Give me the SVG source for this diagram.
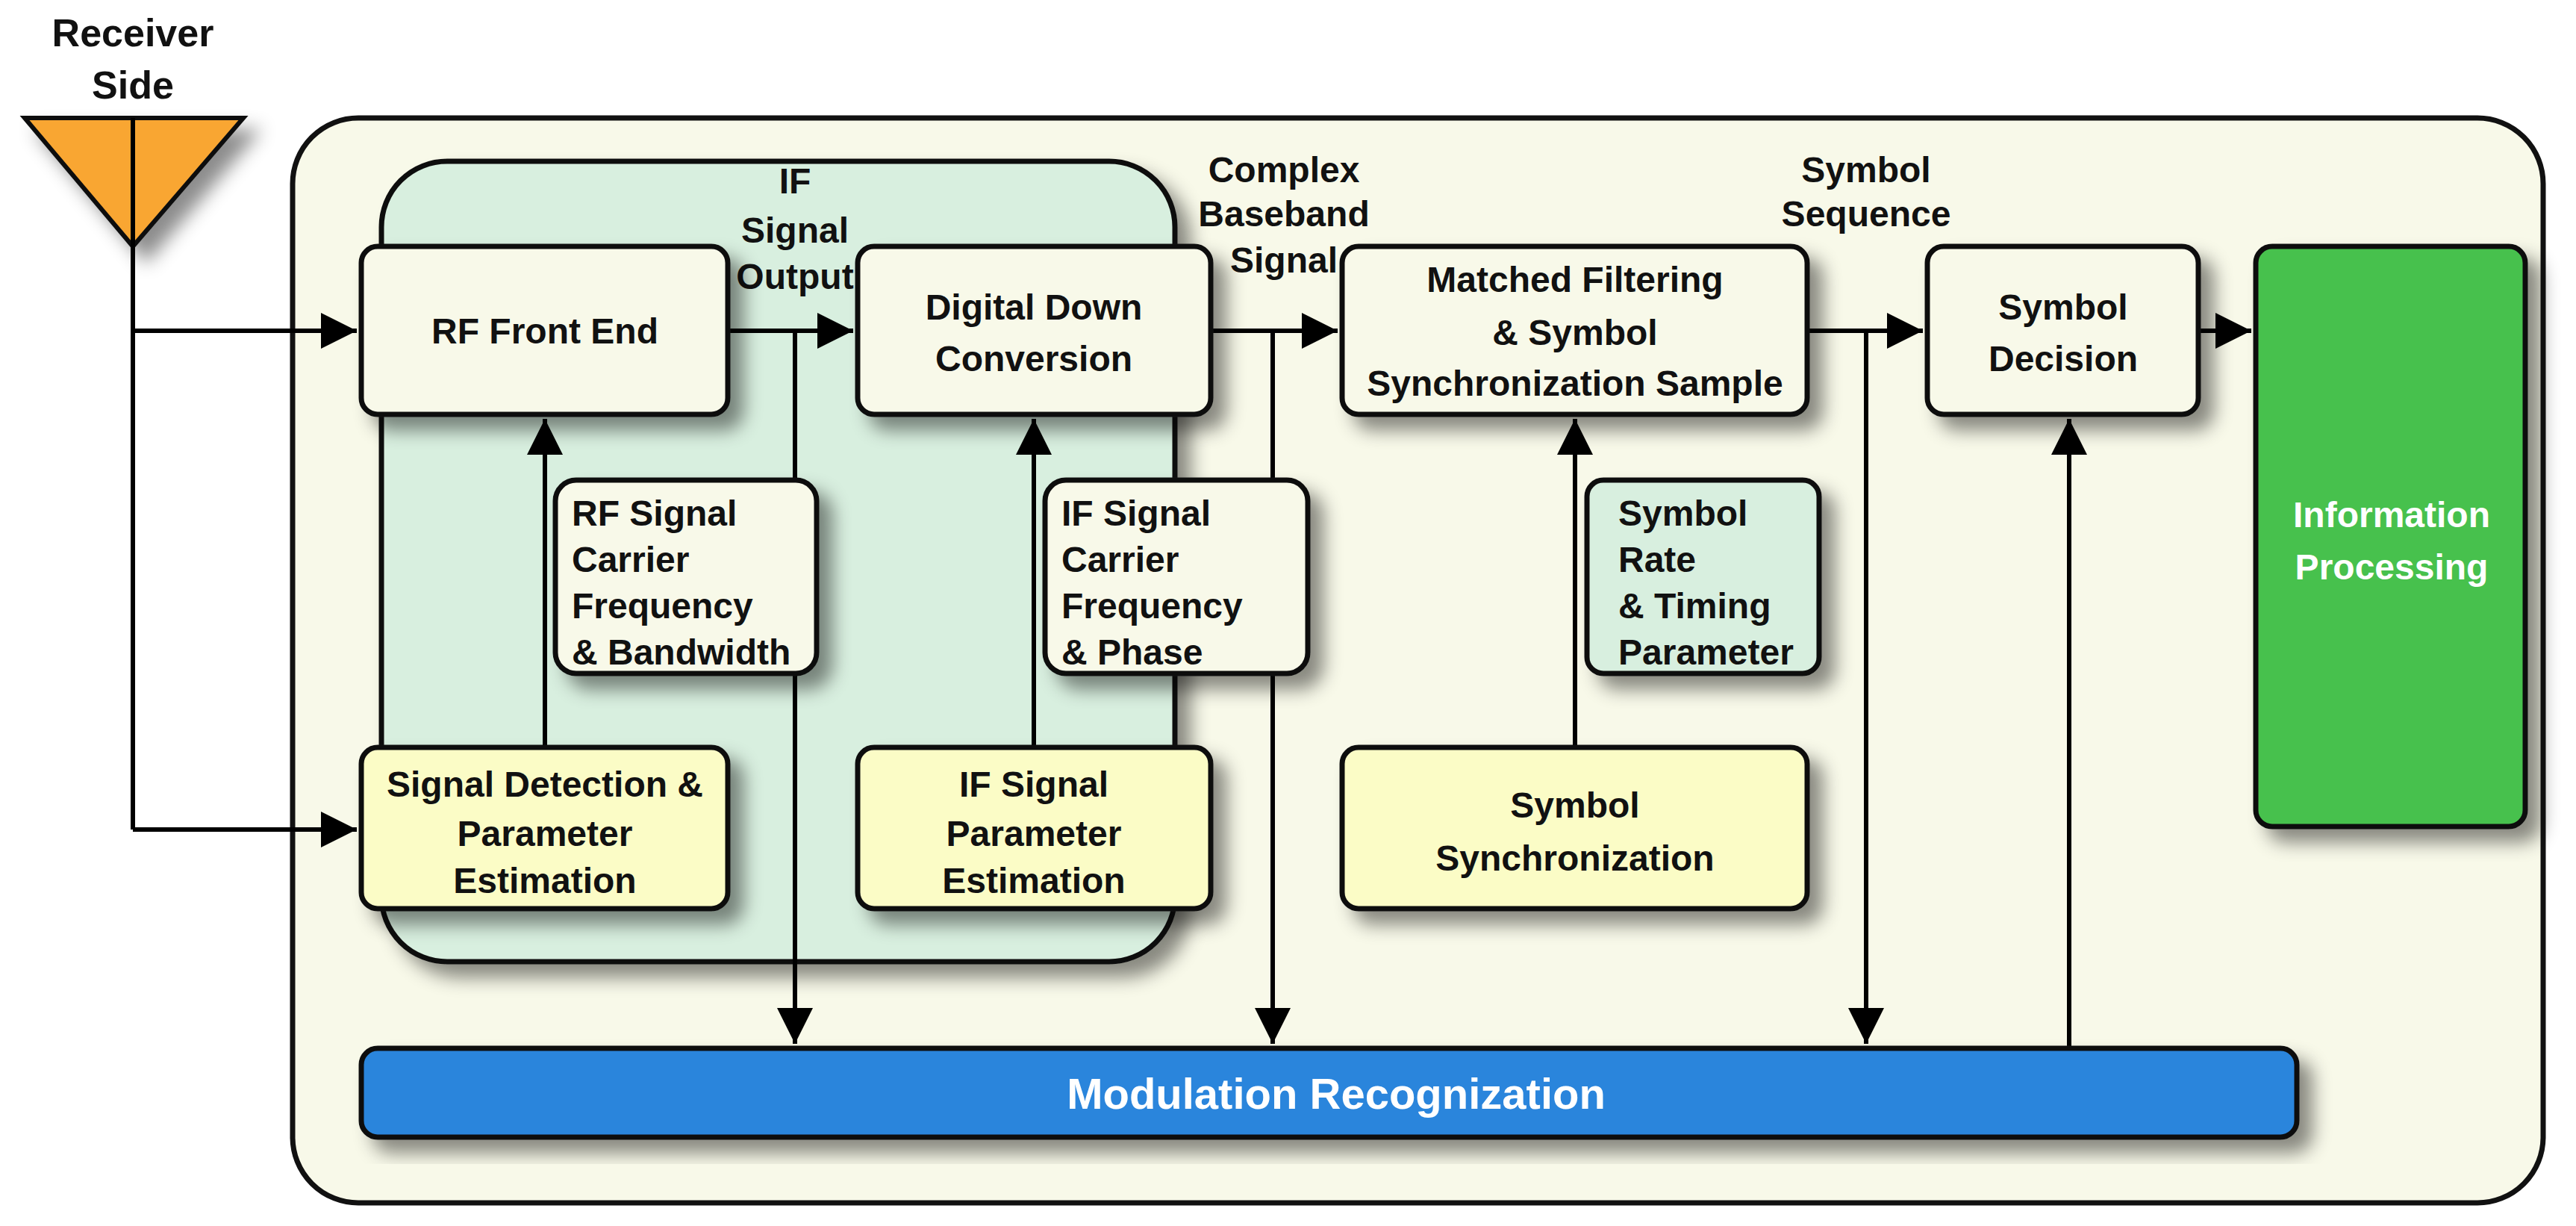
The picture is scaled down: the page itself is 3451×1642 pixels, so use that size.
<svg xmlns="http://www.w3.org/2000/svg" width="3451" height="1642" viewBox="0 0 3451 1642">
<defs>
<filter id="sh" x="-20%" y="-20%" width="150%" height="150%"><feDropShadow dx="18" dy="18" stdDeviation="12" flood-color="#000" flood-opacity="0.45"/></filter>
<marker id="a" viewBox="0 0 10 10" refX="10" refY="5" markerWidth="10" markerHeight="8" orient="auto"><path d="M0,0 L10,5 L0,10 z" fill="#000"/></marker>
</defs>
<style>
.b{stroke:#111;stroke-width:7;filter:url(#sh)}
.w{fill:#f8f9e9}.y{fill:#fbfcc6}.t{fill:#d8efdf}
text{font-family:"Liberation Sans",Arial,sans-serif;font-weight:bold;font-size:48px;fill:#111}
.c{text-anchor:middle}
.l{stroke:#000;stroke-width:6;fill:none}
</style>
<rect x="392" y="158" width="3015" height="1453" rx="88" fill="#f8f9e9" stroke="#111" stroke-width="7"/>
<rect x="511" y="216" width="1063" height="1072" rx="88" class="b t"/>
<g id="antenna"><path d="M33,158 L326,158 L178,330 Z" fill="#f9a632" stroke="#111" stroke-width="6" filter="url(#sh)"/>
<text x="178" y="62" class="c" style="font-size:52px">Receiver</text><text x="178" y="132" class="c" style="font-size:52px">Side</text></g>
<g id="connectors">
<path class="l" d="M178,158 V1111"/>
<path class="l" d="M178,443 H478" marker-end="url(#a)"/>
<path class="l" d="M178,1111 H478" marker-end="url(#a)"/>
<path class="l" d="M975,443 H1143" marker-end="url(#a)"/>
<path class="l" d="M1065,443 V1398" marker-end="url(#a)"/>
<path class="l" d="M1622,443 H1792" marker-end="url(#a)"/>
<path class="l" d="M1705,443 V1398" marker-end="url(#a)"/>
<path class="l" d="M2421,443 H2576" marker-end="url(#a)"/>
<path class="l" d="M2500,443 V1398" marker-end="url(#a)"/>
<path class="l" d="M2945,443 H3016" marker-end="url(#a)"/>
<path class="l" d="M730,1001 V561" marker-end="url(#a)"/>
<path class="l" d="M1385,1001 V561" marker-end="url(#a)"/>
<path class="l" d="M2110,1001 V561" marker-end="url(#a)"/>
<path class="l" d="M2772,1404 V561" marker-end="url(#a)"/>
</g>
<g id="labels">
<text x="1065" y="259" class="c">IF</text><text x="1065" y="325" class="c">Signal</text><text x="1065" y="387" class="c">Output</text>
<text x="1720" y="244" class="c">Complex</text><text x="1720" y="303" class="c">Baseband</text><text x="1720" y="365" class="c">Signal</text>
<text x="2500" y="244" class="c">Symbol</text><text x="2500" y="303" class="c">Sequence</text>
</g>
<g id="rf"><rect x="484" y="330" width="491" height="225" rx="22" class="b w"/><text x="730" y="460" class="c">RF Front End</text></g>
<g id="ddc"><rect x="1149" y="330" width="473" height="225" rx="22" class="b w"/><text x="1385" y="428" class="c">Digital Down</text><text x="1385" y="497" class="c">Conversion</text></g>
<g id="mf"><rect x="1798" y="330" width="623" height="225" rx="22" class="b w"/><text x="2110" y="391" class="c">Matched Filtering</text><text x="2110" y="462" class="c">&amp; Symbol</text><text x="2110" y="530" class="c">Synchronization Sample</text></g>
<g id="sd"><rect x="2582" y="330" width="363" height="225" rx="22" class="b w"/><text x="2764" y="428" class="c">Symbol</text><text x="2764" y="497" class="c">Decision</text></g>
<g id="ip"><rect x="3022" y="330" width="361" height="777" rx="22" class="b" fill="#47c14d"/><text x="3204" y="706" class="c" style="fill:#fff">Information</text><text x="3204" y="776" class="c" style="fill:#fff">Processing</text></g>
<g id="rfp"><rect x="744" y="643" width="350" height="259" rx="28" class="b w"/><text x="766" y="704">RF Signal</text><text x="766" y="766">Carrier</text><text x="766" y="828">Frequency</text><text x="766" y="890">&amp; Bandwidth</text></g>
<g id="ifp"><rect x="1400" y="643" width="352" height="259" rx="28" class="b w"/><text x="1422" y="704">IF Signal</text><text x="1422" y="766">Carrier</text><text x="1422" y="828">Frequency</text><text x="1422" y="890">&amp; Phase</text></g>
<g id="srp"><rect x="2126" y="643" width="311" height="259" rx="22" class="b t"/><text x="2168" y="704">Symbol</text><text x="2168" y="766">Rate</text><text x="2168" y="828">&amp; Timing</text><text x="2168" y="890">Parameter</text></g>
<g id="sdet"><rect x="484" y="1001" width="491" height="216" rx="22" class="b y"/><text x="730" y="1067" class="c">Signal Detection &amp;</text><text x="730" y="1133" class="c">Parameter</text><text x="730" y="1196" class="c">Estimation</text></g>
<g id="ifpe"><rect x="1149" y="1001" width="473" height="216" rx="22" class="b y"/><text x="1385" y="1067" class="c">IF Signal</text><text x="1385" y="1133" class="c">Parameter</text><text x="1385" y="1196" class="c">Estimation</text></g>
<g id="ss"><rect x="1798" y="1001" width="623" height="216" rx="22" class="b y"/><text x="2110" y="1095" class="c">Symbol</text><text x="2110" y="1166" class="c">Synchronization</text></g>
<g id="mr"><rect x="484" y="1404" width="2593" height="119" rx="22" class="b" fill="#2a85dc"/><text x="1790" y="1485" class="c" style="fill:#fff;font-size:58px">Modulation Recognization</text></g>
</svg>
